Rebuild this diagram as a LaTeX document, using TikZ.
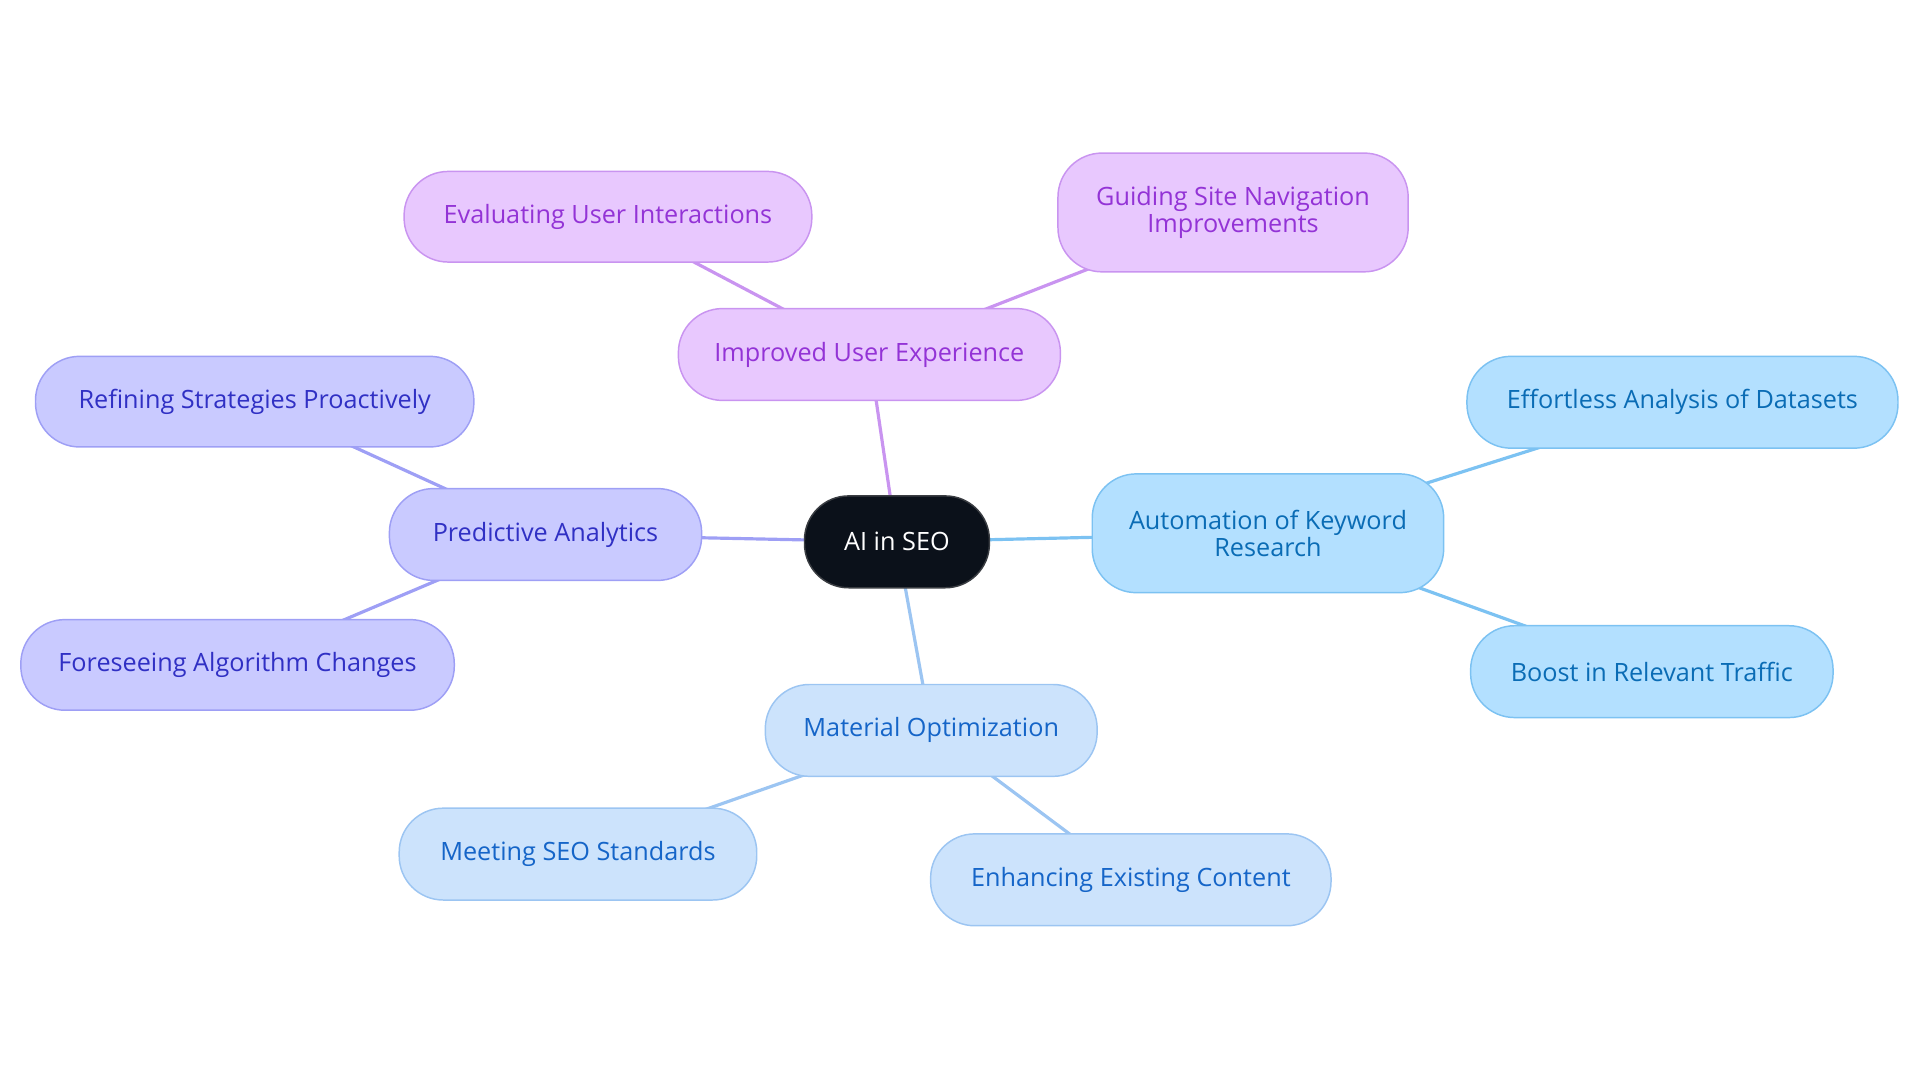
\documentclass[tikz,border=0pt]{standalone}
\usepackage{fontspec}
\setmainfont{Open Sans}
\usetikzlibrary{backgrounds}
\definecolor{pfill}{HTML}{E8C8FE}
\definecolor{pdraw}{HTML}{C994F0}
\definecolor{ptext}{HTML}{9333D6}
\definecolor{lfill}{HTML}{C9CAFF}
\definecolor{ldraw}{HTML}{9E9FF5}
\definecolor{ltext}{HTML}{3030C4}
\definecolor{bfill}{HTML}{B3E0FF}
\definecolor{bdraw}{HTML}{7CC2F2}
\definecolor{btext}{HTML}{0A6CB5}
\definecolor{mfill}{HTML}{CCE3FC}
\definecolor{mdraw}{HTML}{9CC5F2}
\definecolor{mtext}{HTML}{1565C8}
\definecolor{cfill}{HTML}{0B111A}
\definecolor{cdraw}{HTML}{3A3D42}
\begin{document}
\begin{tikzpicture}[x=1pt,y=-1pt,
  box/.style={rounded corners=36pt, line width=1.2pt, inner sep=0pt, align=center,
    font=\fontsize{20.6}{22}\selectfont},
  ubox/.style={box, fill=pfill, draw=pdraw, text=ptext},
  lbox/.style={box, fill=lfill, draw=ldraw, text=ltext},
  bbox/.style={box, fill=bfill, draw=bdraw, text=btext},
  mbox/.style={box, fill=mfill, draw=mdraw, text=mtext},
  cbox/.style={box, fill=cfill, draw=cdraw, text=white},
  uline/.style={draw=pdraw, line width=2.6pt},
  lline/.style={draw=ldraw, line width=2.6pt},
  bline/.style={draw=bdraw, line width=2.6pt},
  mline/.style={draw=mdraw, line width=2.6pt},
]
\useasboundingbox (0,0) rectangle (1568,884.4);
\node[cbox, minimum width=151pt, minimum height=75pt] (c) at (732.5,442.5) {AI in SEO};
\node[ubox, minimum width=312pt, minimum height=75pt] (ux) at (710,289.5) {Improved User Experience};
\node[ubox, minimum width=333pt, minimum height=74pt] (ev) at (496.5,177) {Evaluating User Interactions};
\node[ubox, minimum width=286pt, minimum height=97pt] (gu) at (1007,173.5) {Guiding Site Navigation\\Improvements};
\node[lbox, minimum width=255pt, minimum height=75pt] (pr) at (445.5,436.5) {Predictive Analytics};
\node[lbox, minimum width=358pt, minimum height=74pt] (re) at (208,328) {Refining Strategies Proactively};
\node[lbox, minimum width=354pt, minimum height=74pt] (fo) at (194,543) {Foreseeing Algorithm Changes};
\node[bbox, minimum width=287pt, minimum height=97pt] (au) at (1035.5,435.5) {Automation of Keyword\\Research};
\node[bbox, minimum width=352pt, minimum height=75pt] (ef) at (1374,328.5) {Effortless Analysis of Datasets};
\node[bbox, minimum width=296pt, minimum height=75pt] (bo) at (1349,548.5) {Boost in Relevant Traffic};
\node[mbox, minimum width=271pt, minimum height=75pt] (ma) at (760.5,596.5) {Material Optimization};
\node[mbox, minimum width=292pt, minimum height=75pt] (me) at (472,697.5) {Meeting SEO Standards};
\node[mbox, minimum width=327pt, minimum height=75pt] (en) at (923.5,718.5) {Enhancing Existing Content};
\begin{scope}[on background layer]
\draw[uline] (c.center) -- (ux.center);
\draw[uline] (ux.center) -- (ev.center);
\draw[uline] (ux.center) -- (gu.center);
\draw[lline] (c.center) -- (pr.center);
\draw[lline] (pr.center) -- (re.center);
\draw[lline] (pr.center) -- (fo.center);
\draw[bline] (c.center) -- (au.center);
\draw[bline] (au.center) -- (ef.center);
\draw[bline] (au.center) -- (bo.center);
\draw[mline] (c.center) -- (ma.center);
\draw[mline] (ma.center) -- (me.center);
\draw[mline] (ma.center) -- (en.center);
\end{scope}
\end{tikzpicture}
\end{document}
